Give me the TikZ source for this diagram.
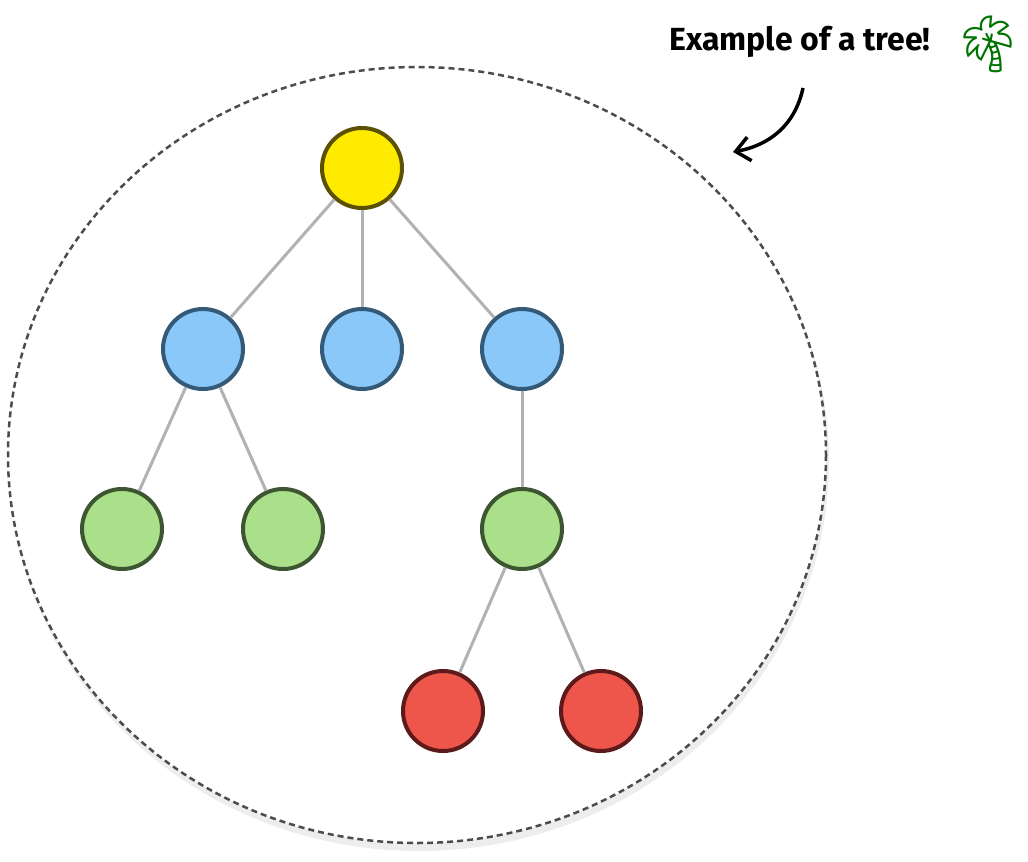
\documentclass[tikz,border=0pt]{standalone}
\usepackage{fontspec}
\setmainfont{Fira Sans}
\newfontfamily\emojifont{Noto Emoji}
\usetikzlibrary{arrows.meta}
\definecolor{yel}{HTML}{FFEB00}\definecolor{yelb}{HTML}{5A5200}
\definecolor{blu}{HTML}{89C8F8}\definecolor{blub}{HTML}{345A78}
\definecolor{grn}{HTML}{ABE08A}\definecolor{grnb}{HTML}{3D5530}
\definecolor{rd}{HTML}{EE554B}\definecolor{rdb}{HTML}{5C1A1A}
\tikzset{
  tn/.style={circle,minimum size=80pt,inner sep=0pt,line width=4pt},
  ny/.style={tn,fill=yel,draw=yelb},
  nb/.style={tn,fill=blu,draw=blub},
  ng/.style={tn,fill=grn,draw=grnb},
  nr/.style={tn,fill=rd,draw=rdb},
  edge/.style={draw=black!30,line width=3pt}
}
\begin{document}
\begin{tikzpicture}[x=1pt,y=-1pt]
\useasboundingbox (0,0) rectangle (1028,862);
\fill[black!7] (419,461) ellipse [x radius=410, y radius=390];
\fill[white] (417,455) ellipse [x radius=409, y radius=388];
\draw[black!70,line width=2.5pt,dash pattern=on 6pt off 4pt] (417,455) ellipse [x radius=409, y radius=388];
\node[ny] (r) at (362,168) {};
\node[nb] (b1) at (203,349) {};
\node[nb] (b2) at (362,349) {};
\node[nb] (b3) at (522,349) {};
\node[ng] (g1) at (122,529) {};
\node[ng] (g2) at (283,529) {};
\node[ng] (g3) at (522,529) {};
\node[nr] (r1) at (443,711) {};
\node[nr] (r2) at (601,711) {};
\foreach \a/\b in {r/b1,r/b2,r/b3,b1/g1,b1/g2,b3/g3,g3/r1,g3/r2}
  \draw[edge] (\a) -- (\b);
\node[font=\fontsize{32}{36}\selectfont\bfseries] (t) at (800,42) {Example of a tree!};
\node[font=\emojifont\fontsize{56}{60}\selectfont,text=green!45!black,inner sep=0pt] (e) at (988,44) {🌴};
\coordinate (a0) at (803,88);
\coordinate (a1) at (733,152);
\draw[line width=3.5pt,-{Straight Barb[length=14pt,width=24pt]}] (a0) .. controls (795,125) and (770,145) .. (a1);
\end{tikzpicture}
\end{document}
